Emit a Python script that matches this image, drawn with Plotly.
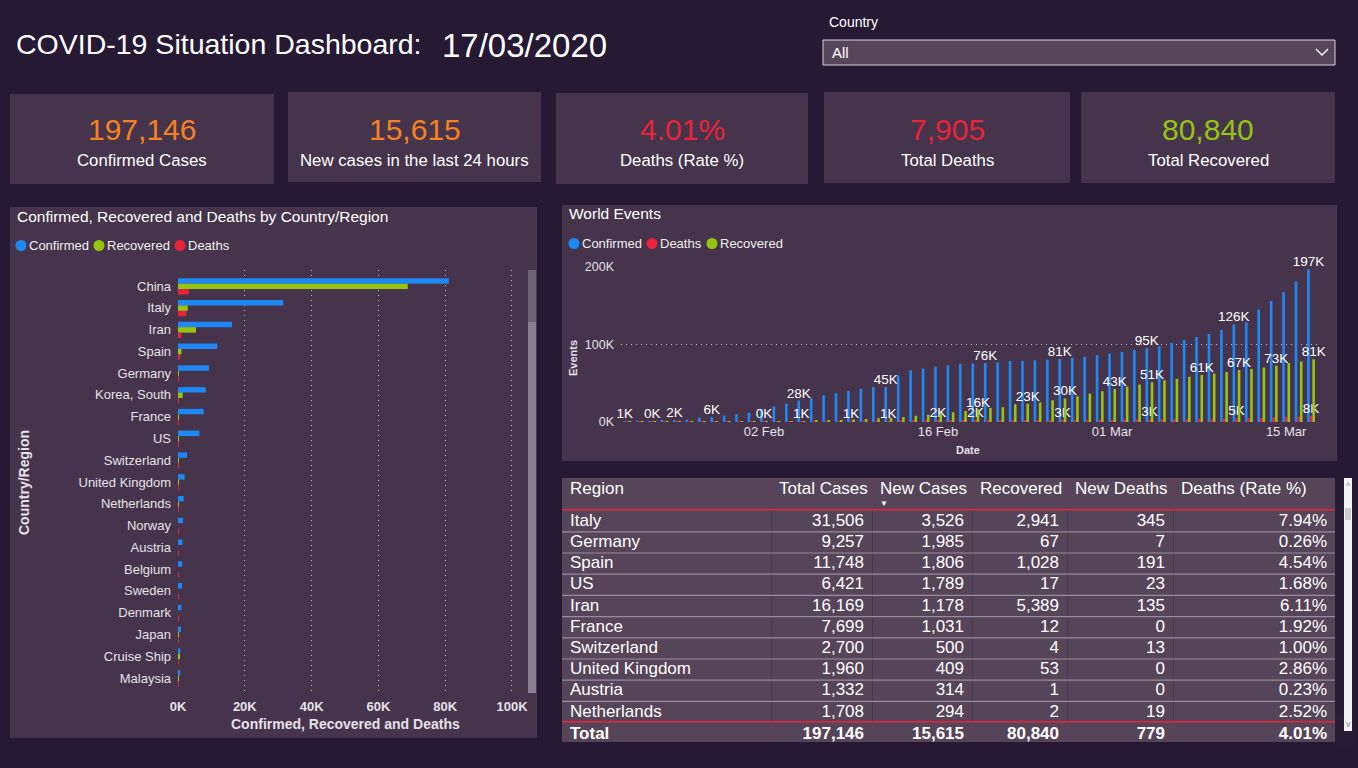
import plotly.graph_objects as go
import pandas as pd

W, H = 1358, 768
def fx(p): return p / W
def fy(p): return 1 - p / H

# ---------------- data ----------------
dates = pd.date_range("2020-01-22", "2020-03-17", freq="D")
date_str = [d.strftime("%Y-%m-%d") for d in dates]
confirmed = [555, 654, 941, 1434, 2118, 2927, 5578, 6166, 8234, 9927,
             12038, 16787, 19881, 23892, 27635, 30794, 34391, 37120, 40150, 42762,
             44802, 45221, 60368, 66885, 69030, 71224, 73258, 75136, 75639, 76197,
             76823, 78579, 78965, 79568, 80413, 81395, 82754, 84120, 86011,
             88369, 90306, 92840, 95120, 97886, 101801, 105847, 109821, 113590, 118620,
             125875, 128352, 145205, 156101, 167454, 181574, 197146]
deaths = [17, 18, 26, 42, 56, 82, 131, 133, 171, 213,
          259, 362, 426, 492, 564, 634, 719, 806, 906, 1013,
          1113, 1118, 1371, 1523, 1666, 1770, 1868, 2007, 2122, 2247,
          2251, 2458, 2469, 2629, 2708, 2770, 2814, 2872, 2941,
          2996, 3085, 3160, 3254, 3348, 3460, 3558, 3803, 3996, 4262,
          4615, 4720, 5404, 5819, 6440, 7126, 7905]
recovered = [28, 30, 36, 39, 52, 61, 107, 126, 143, 222,
             284, 472, 623, 852, 1124, 1487, 2011, 2616, 3244, 3946,
             4683, 5150, 6295, 8058, 9395, 10865, 12583, 14352, 16121, 18177,
             18890, 22886, 23394, 25227, 27905, 30384, 33277, 36711, 39782,
             42716, 45602, 48228, 51170, 53796, 55865, 58358, 60694, 62494, 64404,
             67003, 68324, 70251, 72624, 76034, 78088, 80840]
conf_label_dates = ["2020-01-22", "2020-01-26", "2020-01-29", "2020-02-05", "2020-02-12",
                    "2020-02-20", "2020-02-26", "2020-03-04", "2020-03-11", "2020-03-17"]
death_label_dates = ["2020-01-24", "2020-02-02", "2020-02-05", "2020-02-09", "2020-02-12",
                     "2020-02-16", "2020-02-19", "2020-02-26", "2020-03-04", "2020-03-11", "2020-03-17"]
rec_label_dates = ["2020-02-19", "2020-02-23", "2020-02-26", "2020-03-01", "2020-03-04",
                   "2020-03-08", "2020-03-11", "2020-03-14", "2020-03-17"]
date_ticks = ["2020-02-02", "2020-02-16", "2020-03-01", "2020-03-15"]

countries = ["China", "Italy", "Iran", "Spain", "Germany", "Korea, South", "France", "US",
             "Switzerland", "United Kingdom", "Netherlands", "Norway", "Austria", "Belgium",
             "Sweden", "Denmark", "Japan", "Cruise Ship", "Malaysia"]
cty_confirmed = [81058, 31506, 16169, 11748, 9257, 8320, 7699, 6421, 2700, 1960, 1708,
                 1463, 1332, 1243, 1196, 1024, 878, 696, 673]
cty_recovered = [68798, 2941, 5389, 1028, 67, 1407, 12, 17, 4, 53, 2, 1, 1, 1, 1, 1, 144, 325, 49]
cty_deaths = [3230, 2503, 988, 533, 24, 81, 148, 108, 27, 56, 43, 3, 3, 10, 7, 4, 29, 7, 2]

table_cols = ["Region", "Total Cases", "New Cases", "Recovered", "New Deaths", "Deaths (Rate %)"]
regions = ["Italy", "Germany", "Spain", "US", "Iran", "France", "Switzerland",
           "United Kingdom", "Austria", "Netherlands"]
total_cases = [31506, 9257, 11748, 6421, 16169, 7699, 2700, 1960, 1332, 1708]
new_cases = [3526, 1985, 1806, 1789, 1178, 1031, 500, 409, 314, 294]
recovered_tbl = [2941, 67, 1028, 17, 5389, 12, 4, 53, 1, 2]
new_deaths = [345, 7, 191, 23, 135, 0, 13, 0, 0, 19]
death_rate = [7.94, 0.26, 4.54, 1.68, 6.11, 1.92, 1.00, 2.86, 0.23, 2.52]
total_row = ["Total", 197146, 15615, 80840, 779, 4.01]

kpi_values = ["197,146", "15,615", "4.01%", "7,905", "80,840"]
kpi_labels = ["Confirmed Cases", "New cases in the last 24 hours", "Deaths (Rate %)",
              "Total Deaths", "Total Recovered"]

# ---------------- styles ----------------
BG = "#251934"
PANEL = "#45344b"
TROW = "#564459"
BLUE = "#1e88f5"
GREEN = "#97c311"
RED = "#e8233a"
ORANGE = "#f5821f"
TXT = "#ffffff"
TICK = "#e6e1e8"
GRID = "#c3bac7"
CLEAR = "rgba(0,0,0,0)"
F = "Liberation Sans, Arial, sans-serif"
NB = "\u00a0"

fig = go.Figure()

# ---------------- left bar chart ----------------
for name, vals, col, off in [("Confirmed", cty_confirmed, BLUE, -0.36),
                             ("Recovered", cty_recovered, GREEN, -0.11),
                             ("Deaths", cty_deaths, RED, 0.14)]:
    fig.add_trace(go.Bar(y=countries, x=vals, orientation="h", name=name,
                         marker=dict(color=col, line=dict(width=0)),
                         width=0.25, offset=off, xaxis="x", yaxis="y",
                         showlegend=False, hoverinfo="x+y"))

# ---------------- world events ----------------
DAY = 86400000
def klabels(values, keep):
    return [f"{round(v / 1000):.0f}K" if d in keep else "" for d, v in zip(date_str, values)]

for name, vals, col, off, keep in [("Confirmed", confirmed, BLUE, -0.31, conf_label_dates),
                                   ("Deaths", deaths, RED, -0.10, death_label_dates),
                                   ("Recovered", recovered, GREEN, 0.11, rec_label_dates)]:
    fig.add_trace(go.Bar(x=date_str, y=vals, name=name,
                         marker=dict(color=col, line=dict(width=0)),
                         width=0.21 * DAY, offset=off * DAY,
                         text=klabels(vals, keep), textposition="outside",
                         textangle=0, constraintext="none", cliponaxis=False,
                         textfont=dict(color=TXT, size=13.5, family=F),
                         xaxis="x2", yaxis="y2", showlegend=False))

# ---------------- table ----------------
TX0, TX1, TY0, TY1, HEAD, ROWH = 562, 1335, 478, 742, 32, 21.2
SHIFT = 5  # plotly draws cell text lower than the reference; lift the text grid
nrows = len(regions)
body_bottom = TY0 + HEAD + nrows * ROWH
colw = [209, 101, 100, 95, 106, 162]
cells = [regions,
         [f"{v:,}" for v in total_cases],
         [f"{v:,}" for v in new_cases],
         [f"{v:,}" for v in recovered_tbl],
         [f"{v:,}" for v in new_deaths],
         [f"{v:.2f}%" for v in death_rate]]
fig.add_trace(go.Table(
    domain=dict(x=[fx(TX0), fx(TX1)], y=[fy(body_bottom - SHIFT + 3), fy(TY0 - SHIFT)]),
    columnwidth=colw,
    header=dict(values=[c.replace(" ", NB) for c in table_cols], height=HEAD, fill_color=CLEAR,
                line=dict(color=CLEAR, width=0),
                font=dict(color=TXT, size=17, family=F), align="left"),
    cells=dict(values=[[s.replace(" ", NB) for s in col] for col in cells],
               height=ROWH, fill_color=CLEAR,
               line=dict(color=CLEAR, width=0),
               font=dict(color=TXT, size=17, family=F),
               align=["left", "right", "right", "right", "right", "right"])))
tot_txt = [f"<b>{total_row[0]}</b>"] + [f"<b>{v:,}</b>" for v in total_row[1:5]] + [f"<b>{total_row[5]:.2f}%</b>"]
TOT_TOP = 716
fig.add_trace(go.Table(
    domain=dict(x=[fx(TX0), fx(TX1)], y=[fy(TY1 + 6), fy(TOT_TOP)]),
    columnwidth=colw,
    header=dict(values=tot_txt, height=TY1 + 6 - TOT_TOP, fill_color=CLEAR,
                line=dict(color=CLEAR, width=0),
                font=dict(color=TXT, size=17, family=F),
                align=["left", "right", "right", "right", "right", "right"]),
    cells=dict(values=[[] for _ in colw])))

# ---------------- shapes ----------------
shapes = []
def rect(x0, y0, x1, y1, fill, line=None, layer="below"):
    shapes.append(dict(type="rect", xref="paper", yref="paper",
                       x0=fx(x0), x1=fx(x1), y0=fy(y1), y1=fy(y0),
                       fillcolor=fill, layer=layer,
                       line=dict(width=1 if line else 0, color=line or fill)))
def dot(cx, cy, r, fill):
    shapes.append(dict(type="circle", xref="paper", yref="paper",
                       x0=fx(cx - r), x1=fx(cx + r), y0=fy(cy + r), y1=fy(cy - r),
                       fillcolor=fill, line=dict(width=0), layer="above"))

cards = [(10, 94, 274, 184), (288, 92, 541, 182), (556, 93, 808, 184),
         (824, 92, 1070, 183), (1081, 92, 1335, 183)]
for c in cards:
    rect(*c, PANEL)
rect(10, 207, 537, 738, PANEL)
rect(562, 205, 1337, 461, PANEL)
rect(823, 40, 1335, 65, "#574659", line="#d6cfd9")
# table background + grid
rect(TX0, TY0, TX1, TY1, TROW)
vx = [TX0]
for w in colw:
    vx.append(vx[-1] + w)
for x in vx[1:-1]:
    rect(x, TY0, x + 1, TY0 + HEAD, "#6b3b57")
    rect(x, TY0 + HEAD, x + 1, body_bottom, "#48384d")
    rect(x, body_bottom, x + 1, TY1, "#6b3b57")
for i in range(1, nrows):
    rect(TX0, TY0 + HEAD + i * ROWH, TX1, TY0 + HEAD + i * ROWH + 1.2, "#978c9b")
rect(TX0, TY0 + HEAD - 1, TX1, TY0 + HEAD + 0.6, RED)
rect(TX0, body_bottom - 1, TX1, body_bottom + 0.6, RED)
# table scrollbar
rect(1344, 478, 1352, 731, "#f4f4f4")
rect(1345, 508, 1351, 520, "#cdcdcd")
# left scrollbar
rect(528, 270, 536, 693, "#8a7f92")
rect(528, 270, 536, 322, "#6d6273")
# dropdown chevron
shapes.append(dict(type="path", xref="paper", yref="paper",
                   path=f"M {fx(1316)} {fy(49)} L {fx(1322)} {fy(55)} L {fx(1328)} {fy(49)}",
                   line=dict(color="#ffffff", width=1.3)))

# ---------------- annotations ----------------
ann = []
def text(x, y, s, size, color=TXT, xanchor="left", family=F, angle=0, weight=None):
    d = dict(x=fx(x), y=fy(y), xref="paper", yref="paper", text=s, showarrow=False,
             xanchor=xanchor, yanchor="middle", textangle=angle,
             font=dict(size=size, color=color, family=family))
    if weight:
        d["font"]["weight"] = weight
    ann.append(d)

text(14, 44, "COVID-19 Situation Dashboard:", 28.5)
text(440, 45, "17/03/2020", 33)
text(827, 22, "Country", 14)
text(830, 53, "All", 15)

kpi_colors = [ORANGE, ORANGE, RED, RED, GREEN]
for (x0, y0, x1, y1), v, lab, col in zip(cards, kpi_values, kpi_labels, kpi_colors):
    cx = (x0 + x1) / 2
    text(cx, 129, v, 30, color=col, xanchor="center")
    text(cx, 161, lab, 16.8, xanchor="center")

text(15, 216, "Confirmed, Recovered and Deaths by Country/Region", 15.5)
text(567, 214, "World Events", 15.5)
# legends (dot + label)
for (cx, name, col) in [(21, "Confirmed", BLUE), (99, "Recovered", GREEN), (180, "Deaths", RED)]:
    dot(cx, 245.5, 5.5, col)
    text(cx + 6, 245.5, name, 13, color="#f0f0f0")
for (cx, name, col) in [(574, "Confirmed", BLUE), (652, "Deaths", RED), (712, "Recovered", GREEN)]:
    dot(cx, 243.5, 5.5, col)
    text(cx + 6, 243.5, name, 13, color="#f0f0f0")

text(24, 483, "Country/Region", 14, xanchor="center", angle=-90, weight="bold", color=TICK)
text(345, 724, "Confirmed, Recovered and Deaths", 14, xanchor="center", weight="bold", color=TICK)
text(573, 358, "Events", 11, xanchor="center", angle=-90, weight="bold", color=TICK)
text(968, 450, "Date", 11, xanchor="center", weight="bold", color=TICK)

# sort arrow
text(884, 503, "▼", 8, xanchor="center")
# table scroll arrows
text(1348, 486, "^", 9, color="#8a8a8a", xanchor="center")
text(1348, 724, "v", 9, color="#8a8a8a", xanchor="center")

# ---------------- layout ----------------
y_top = -0.737
y_bot = len(countries) - 1 + 0.69
DOTS = "1px,4px"
fig.update_layout(
    width=W, height=H, autosize=False,
    margin=dict(l=0, r=0, t=0, b=0, pad=0, autoexpand=False),
    paper_bgcolor=BG, plot_bgcolor="rgba(0,0,0,0)",
    barmode="overlay", showlegend=False,
    font=dict(family=F, color=TXT),
    shapes=shapes, annotations=ann,
    xaxis=dict(domain=[fx(178), fx(522)], range=[0, 103000], anchor="y", automargin=False,
               tickvals=[0, 20000, 40000, 60000, 80000, 100000],
               ticktext=["0K", "20K", "40K", "60K", "80K", "100K"],
               showgrid=True, gridcolor=GRID, griddash=DOTS, gridwidth=1.2,
               zeroline=False, showline=False, ticks="", ticklabelstandoff=4,
               tickfont=dict(size=13, color=TICK, family=F, weight="bold")),
    yaxis=dict(domain=[fy(693), fy(270)], type="category", range=[y_bot, y_top],
               anchor="x", automargin=False, showgrid=False, zeroline=False,
               showline=False, ticks="", ticklabelstandoff=6,
               tickfont=dict(size=13, color=TICK, family=F)),
    xaxis2=dict(domain=[fx(621), fx(1317.2)], type="date", anchor="y2", automargin=False,
                range=["2020-01-21 12:00", "2020-03-17 12:00"],
                tickvals=date_ticks, tickformat="%d %b",
                showgrid=False, zeroline=False, showline=False, ticks="",
                tickfont=dict(size=13, color=TICK, family=F)),
    yaxis2=dict(domain=[fy(422), fy(267)], range=[0, 200000], anchor="x2", automargin=False,
                tickvals=[0, 100000, 200000], ticktext=["0K", "100K", "200K"],
                showgrid=True, gridcolor=GRID, griddash=DOTS, gridwidth=1.2,
                zeroline=False, showline=False, ticks="", ticklabelstandoff=6,
                tickfont=dict(size=12.5, color=TICK, family=F)),
)

fig.write_html("out.html", config={"displayModeBar": False},
               post_script="document.body.style.margin='0';document.body.style.overflow='hidden';")
